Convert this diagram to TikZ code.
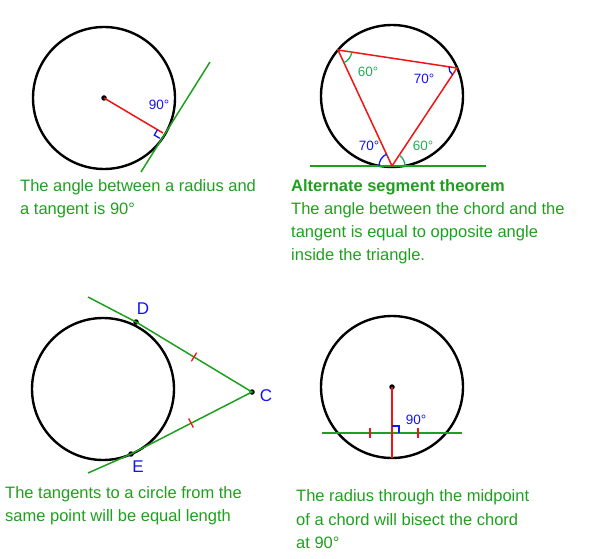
\documentclass[tikz,border=0pt]{standalone}
\usepackage{fontspec}
\setmainfont{Liberation Sans}
\definecolor{tg}{RGB}{30,160,30}
\definecolor{ag}{RGB}{40,170,90}
\definecolor{bl}{RGB}{20,20,240}
\definecolor{rd}{RGB}{240,20,20}
\begin{document}
\begin{tikzpicture}[x=1pt,y=-1pt,
  circ/.style={line width=2.4pt,black},
  rad/.style={rd,line width=1.5pt},
  tan/.style={tg,line width=1.5pt},
  txt/.style={tg,anchor=west,font=\fontsize{16.5}{18}\selectfont,inner sep=0},
  lab/.style={font=\fontsize{13.5}{15}\selectfont,inner sep=0},
  dot/.style={circle,fill=black,inner sep=0,minimum size=5.5pt}]
\useasboundingbox (0,0) rectangle (600,559);
% panel 1
\draw[circ] (104,98) circle (71);
\node[dot] (o1) at (104,98) {};
\coordinate (t1) at (163,133);
\coordinate (l1a) at (141,172);
\coordinate (l1b) at (210,62);
\draw[tan] (l1a) -- (l1b);
\draw[rad] (o1.center) -- (t1);
\draw[bl,line width=1.3pt] (157.5,129.7) -- (154.3,135.1) -- (159.8,138.3);
\node[lab,bl] (n90a) at (159,105) {90°};
\node[txt] (tx1) at (20,187) {The angle between a radius and};
\node[txt] (tx2) at (20,210) {a tangent is 90°};
% panel 2
\draw[circ] (392,96) circle (71);
\coordinate (A) at (338,50);
\coordinate (B) at (457,68);
\coordinate (P) at (392,166);
\coordinate (la) at (310,166);
\coordinate (lb) at (486,166);
\draw[tan] (la) -- (lb);
\draw[rad] (A) -- (B) -- (P) -- cycle;
\draw[ag,line width=1.3pt] ([shift={(8.6:14)}]A) arc[start angle=8.6,end angle=65,radius=14];
\draw[bl,line width=1.3pt] ([shift={(123.6:8)}]B) arc[start angle=123.6,end angle=188.6,radius=8];
\draw[bl,line width=1.3pt] ([shift={(180:13)}]P) arc[start angle=180,end angle=245,radius=13];
\draw[ag,line width=1.3pt] ([shift={(0:13)}]P) arc[start angle=0,end angle=-56,radius=13];
\node[lab,ag] (g60a) at (368,72) {60°};
\node[lab,bl] (b70a) at (424,79) {70°};
\node[lab,bl] (b70b) at (369,146) {70°};
\node[lab,ag] (g60b) at (423,146) {60°};
\node[txt,font=\bfseries\fontsize{16.5}{18}\selectfont] (tx3) at (291,187) {Alternate segment theorem};
\node[txt] (tx4) at (291,210) {The angle between the chord and the};
\node[txt] (tx5) at (291,233) {tangent is equal to opposite angle};
\node[txt] (tx6) at (291,256) {inside the triangle.};
% panel 3
\draw[circ] (103,389) circle (71);
\coordinate (d0) at (88,297);
\coordinate (e0) at (88,473);
\node[dot] (D) at (136,322) {};
\node[dot] (E) at (131,454) {};
\node[dot] (C) at (252,392) {};
\draw[tan] (d0) -- (D.center) -- (C.center) -- (E.center) -- (e0);
\draw[rd,line width=1.3pt] (191.4,361.3) -- (196.6,352.7);
\draw[rd,line width=1.3pt] (188.7,418.5) -- (193.3,427.5);
\node[lab,bl,font=\fontsize{17}{18}\selectfont] (Dl) at (143,309) {D};
\node[lab,bl,font=\fontsize{17}{18}\selectfont] (El) at (138,467) {E};
\node[lab,bl,font=\fontsize{17}{18}\selectfont] (Cl) at (266,396) {C};
\node[txt] (tx7) at (5,494) {The tangents to a circle from the};
\node[txt] (tx8) at (5,517) {same point will be equal length};
% panel 4
\draw[circ] (392,387) circle (71);
\node[dot] (o4) at (392,387) {};
\coordinate (c1) at (322,433);
\coordinate (c2) at (462,433);
\coordinate (bt) at (392,458);
\draw[tan] (c1) -- (c2);
\draw[rad] (o4.center) -- (bt);
\draw[bl,line width=1.3pt] (392,426) -- (399,426) -- (399,433);
\draw[rd,line width=1.3pt] (370,428) -- (370,438);
\draw[rd,line width=1.3pt] (418,428) -- (418,438);
\node[lab,bl] (n90b) at (416,420) {90°};
\node[txt] (tx9) at (296,497) {The radius through the midpoint};
\node[txt] (tx10) at (296,520) {of a chord will bisect the chord};
\node[txt] (tx11) at (296,543) {at 90°};
\end{tikzpicture}
\end{document}
